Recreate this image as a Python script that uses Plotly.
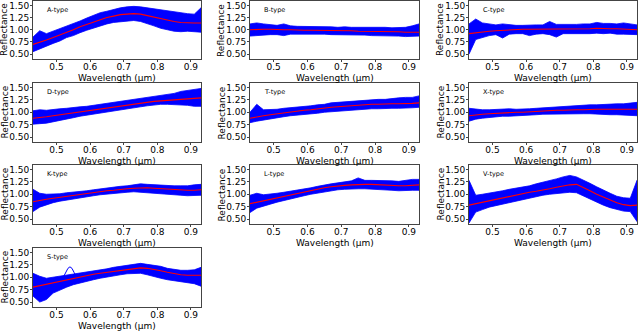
import plotly.graph_objects as go

# ---------------- data ----------------
wavelength = [0.43, 0.45, 0.47, 0.49, 0.51, 0.53, 0.55, 0.57, 0.59, 0.61, 0.63, 0.65, 0.67,
              0.69, 0.71, 0.73, 0.75, 0.77, 0.79, 0.81, 0.83, 0.85, 0.87, 0.89, 0.91, 0.93]

class_names = ["A-type", "B-type", "C-type", "D-type", "T-type", "X-type",
               "K-type", "L-type", "V-type", "S-type"]

a_mean = [0.70, 0.74, 0.79, 0.84, 0.89, 0.95, 1.00, 1.06, 1.11, 1.16, 1.21, 1.25, 1.28, 1.31, 1.32, 1.33, 1.32, 1.29, 1.26, 1.22, 1.19, 1.17, 1.15, 1.14, 1.14, 1.14]
a_upper = [0.85, 0.98, 0.92, 0.97, 1.02, 1.08, 1.13, 1.18, 1.24, 1.29, 1.35, 1.38, 1.42, 1.45, 1.47, 1.48, 1.47, 1.45, 1.43, 1.40, 1.38, 1.36, 1.34, 1.33, 1.32, 1.45]
a_lower = [0.55, 0.60, 0.66, 0.72, 0.77, 0.84, 0.88, 0.94, 0.99, 1.04, 1.08, 1.12, 1.15, 1.17, 1.18, 1.19, 1.17, 1.12, 1.08, 1.03, 1.00, 0.97, 0.96, 0.97, 0.96, 0.95]

b_mean = [1.00, 1.01, 1.01, 1.01, 1.00, 1.00, 1.00, 0.99, 0.99, 0.99, 0.99, 0.99, 0.98, 0.98, 0.98, 0.98, 0.97, 0.97, 0.97, 0.97, 0.96, 0.96, 0.96, 0.95, 0.95, 0.95]
b_upper = [1.12, 1.14, 1.12, 1.10, 1.09, 1.12, 1.08, 1.07, 1.07, 1.06, 1.06, 1.06, 1.06, 1.05, 1.06, 1.05, 1.05, 1.06, 1.05, 1.05, 1.05, 1.04, 1.05, 1.05, 1.08, 1.12]
b_lower = [0.87, 0.88, 0.89, 0.90, 0.90, 0.88, 0.91, 0.91, 0.91, 0.91, 0.91, 0.91, 0.90, 0.90, 0.90, 0.90, 0.89, 0.89, 0.88, 0.88, 0.87, 0.87, 0.87, 0.86, 0.86, 0.87]

c_mean = [0.92, 0.94, 0.96, 0.97, 0.98, 0.99, 1.00, 1.00, 1.01, 1.01, 1.01, 1.02, 1.02, 1.02, 1.02, 1.02, 1.02, 1.02, 1.02, 1.03, 1.02, 1.02, 1.02, 1.01, 1.01, 1.00]
c_upper = [1.12, 1.22, 1.14, 1.12, 1.10, 1.12, 1.10, 1.09, 1.09, 1.10, 1.10, 1.10, 1.17, 1.11, 1.11, 1.10, 1.11, 1.12, 1.12, 1.15, 1.13, 1.13, 1.12, 1.14, 1.12, 1.10]
c_lower = [0.50, 0.80, 0.84, 0.88, 0.90, 0.83, 0.91, 0.92, 0.92, 0.88, 0.91, 0.92, 0.90, 0.85, 0.92, 0.92, 0.93, 0.92, 0.92, 0.93, 0.92, 0.93, 0.91, 0.91, 0.91, 0.90]

d_mean = [0.88, 0.89, 0.91, 0.93, 0.95, 0.97, 0.99, 1.01, 1.03, 1.05, 1.07, 1.09, 1.11, 1.13, 1.15, 1.17, 1.19, 1.20, 1.22, 1.23, 1.24, 1.25, 1.26, 1.27, 1.28, 1.29]
d_upper = [1.03, 1.05, 1.04, 1.06, 1.07, 1.08, 1.10, 1.11, 1.12, 1.14, 1.16, 1.18, 1.20, 1.21, 1.23, 1.26, 1.28, 1.29, 1.31, 1.33, 1.35, 1.38, 1.42, 1.44, 1.46, 1.48]
d_lower = [0.76, 0.77, 0.78, 0.80, 0.83, 0.86, 0.89, 0.92, 0.95, 0.97, 0.99, 1.01, 1.03, 1.05, 1.07, 1.09, 1.11, 1.13, 1.15, 1.16, 1.16, 1.16, 1.15, 1.14, 1.12, 1.12]

t_mean = [0.88, 0.91, 0.93, 0.95, 0.97, 0.99, 1.01, 1.02, 1.04, 1.05, 1.07, 1.08, 1.10, 1.11, 1.12, 1.14, 1.15, 1.15, 1.16, 1.16, 1.17, 1.17, 1.17, 1.17, 1.18, 1.19]
t_upper = [1.00, 1.16, 1.05, 1.05, 1.06, 1.08, 1.09, 1.10, 1.12, 1.13, 1.15, 1.16, 1.19, 1.20, 1.22, 1.22, 1.23, 1.24, 1.25, 1.26, 1.26, 1.28, 1.29, 1.30, 1.30, 1.33]
t_lower = [0.79, 0.82, 0.85, 0.87, 0.89, 0.91, 0.93, 0.94, 0.96, 0.97, 0.98, 1.00, 1.02, 1.03, 1.04, 1.05, 1.06, 1.06, 1.07, 1.07, 1.07, 1.08, 1.08, 1.08, 1.09, 1.10]

x_mean = [0.93, 0.95, 0.96, 0.97, 0.98, 0.99, 0.99, 1.00, 1.00, 1.01, 1.02, 1.02, 1.03, 1.04, 1.04, 1.05, 1.05, 1.05, 1.06, 1.06, 1.06, 1.06, 1.06, 1.06, 1.06, 1.06]
x_upper = [1.08, 1.06, 1.05, 1.05, 1.06, 1.06, 1.07, 1.06, 1.06, 1.07, 1.08, 1.09, 1.10, 1.11, 1.12, 1.13, 1.14, 1.14, 1.15, 1.15, 1.16, 1.16, 1.17, 1.17, 1.18, 1.20]
x_lower = [0.82, 0.86, 0.88, 0.90, 0.91, 0.92, 0.92, 0.93, 0.93, 0.94, 0.95, 0.96, 0.96, 0.97, 0.97, 0.97, 0.97, 0.97, 0.97, 0.96, 0.96, 0.95, 0.95, 0.94, 0.94, 0.93]

k_mean = [0.85, 0.88, 0.90, 0.92, 0.94, 0.96, 0.98, 1.00, 1.01, 1.03, 1.05, 1.07, 1.08, 1.10, 1.11, 1.12, 1.13, 1.13, 1.12, 1.11, 1.10, 1.09, 1.08, 1.08, 1.08, 1.09]
k_upper = [1.10, 1.02, 1.00, 1.00, 1.01, 1.03, 1.04, 1.06, 1.07, 1.09, 1.11, 1.13, 1.14, 1.16, 1.17, 1.19, 1.21, 1.20, 1.19, 1.18, 1.17, 1.17, 1.17, 1.17, 1.19, 1.20]
k_lower = [0.65, 0.74, 0.79, 0.83, 0.86, 0.89, 0.91, 0.93, 0.95, 0.97, 0.99, 1.01, 1.02, 1.03, 1.04, 1.05, 1.05, 1.04, 1.03, 1.02, 1.00, 0.99, 0.98, 0.97, 0.97, 0.98]

l_mean = [0.81, 0.84, 0.87, 0.90, 0.93, 0.96, 0.99, 1.02, 1.05, 1.08, 1.10, 1.13, 1.15, 1.17, 1.18, 1.19, 1.20, 1.20, 1.20, 1.19, 1.19, 1.18, 1.17, 1.17, 1.18, 1.19]
l_upper = [0.98, 1.02, 0.99, 1.00, 1.02, 1.04, 1.06, 1.08, 1.10, 1.13, 1.16, 1.19, 1.21, 1.23, 1.25, 1.27, 1.33, 1.28, 1.28, 1.28, 1.28, 1.27, 1.26, 1.28, 1.30, 1.30]
l_lower = [0.63, 0.72, 0.76, 0.80, 0.84, 0.87, 0.91, 0.94, 0.97, 1.00, 1.02, 1.05, 1.07, 1.09, 1.10, 1.11, 1.11, 1.11, 1.10, 1.10, 1.09, 1.08, 1.07, 1.07, 1.08, 1.08]

v_mean = [0.78, 0.81, 0.84, 0.87, 0.90, 0.93, 0.96, 0.99, 1.02, 1.04, 1.06, 1.08, 1.11, 1.14, 1.17, 1.19, 1.20, 1.14, 1.07, 1.00, 0.94, 0.88, 0.83, 0.79, 0.77, 0.78]
v_upper = [1.28, 0.98, 1.00, 1.02, 1.04, 1.07, 1.10, 1.12, 1.14, 1.17, 1.21, 1.24, 1.27, 1.31, 1.35, 1.38, 1.35, 1.29, 1.22, 1.15, 1.08, 1.02, 0.96, 0.93, 0.92, 1.28]
v_lower = [0.42, 0.64, 0.69, 0.74, 0.77, 0.81, 0.84, 0.87, 0.90, 0.93, 0.95, 0.98, 1.00, 1.02, 1.03, 1.04, 1.03, 0.97, 0.90, 0.84, 0.78, 0.73, 0.69, 0.66, 0.65, 0.45]

s_mean = [0.80, 0.83, 0.86, 0.89, 0.91, 0.94, 0.97, 1.00, 1.03, 1.06, 1.08, 1.10, 1.12, 1.14, 1.16, 1.17, 1.19, 1.18, 1.16, 1.13, 1.10, 1.07, 1.05, 1.04, 1.04, 1.04]
s_upper = [1.08, 1.02, 0.98, 1.00, 1.02, 1.04, 1.07, 1.09, 1.11, 1.13, 1.15, 1.17, 1.20, 1.22, 1.24, 1.26, 1.28, 1.26, 1.24, 1.22, 1.18, 1.16, 1.14, 1.14, 1.15, 1.20]
s_lower = [0.62, 0.50, 0.55, 0.68, 0.74, 0.80, 0.85, 0.89, 0.92, 0.95, 0.98, 1.01, 1.03, 1.05, 1.07, 1.08, 1.08, 1.05, 1.02, 0.98, 0.95, 0.92, 0.90, 0.89, 0.87, 0.82]

# single outlier spectrum bump in the S-type panel
s_outlier_wl = [0.520, 0.528, 0.534, 0.540, 0.546, 0.552, 0.560]
s_outlier_val = [1.00, 1.10, 1.18, 1.21, 1.18, 1.10, 1.00]

means = [a_mean, b_mean, c_mean, d_mean, t_mean, x_mean, k_mean, l_mean, v_mean, s_mean]
uppers = [a_upper, b_upper, c_upper, d_upper, t_upper, x_upper, k_upper, l_upper, v_upper, s_upper]
lowers = [a_lower, b_lower, c_lower, d_lower, t_lower, x_lower, k_lower, l_lower, v_lower, s_lower]

x_ticks = [0.5, 0.6, 0.7, 0.8, 0.9]
x_ticklabels = ["0.5", "0.6", "0.7", "0.8", "0.9"]
y_ticks = [0.50, 0.75, 1.00, 1.25, 1.50]
y_ticklabels = ["0.50", "0.75", "1.00", "1.25", "1.50"]
x_title = "Wavelength (µm)"
y_title = "Reflectance"

# ---------------- layout geometry ----------------
W, H = 638, 332
col_px = [(33, 201), (250, 419), (469, 637)]
row_px = [(1, 59), (83, 142), (165, 224), (248, 307)]
FONT = "DejaVu Sans"
BLUE = "#0000ff"
RED = "#ff0000"

fig = go.Figure()
layout = dict(width=W, height=H, margin=dict(l=0, r=0, t=0, b=0),
              paper_bgcolor="white", plot_bgcolor="white", showlegend=False,
              font=dict(family=FONT, size=9, color="black"))
annotations = []

for i, name in enumerate(class_names):
    r, c = divmod(i, 3)
    x0, x1 = col_px[c]
    y0, y1 = row_px[r]
    n = "" if i == 0 else str(i + 1)
    xa, ya = "x" + n, "y" + n

    fig.add_trace(go.Scatter(
        x=wavelength + wavelength[::-1], y=uppers[i] + lowers[i][::-1],
        fill="toself", fillcolor=BLUE, mode="lines",
        line=dict(color=BLUE, width=0.8), xaxis=xa, yaxis=ya, hoverinfo="skip"))
    if name == "S-type":
        fig.add_trace(go.Scatter(x=s_outlier_wl, y=s_outlier_val, mode="lines",
                                 line=dict(color=BLUE, width=1), xaxis=xa, yaxis=ya))
    fig.add_trace(go.Scatter(x=wavelength, y=means[i], mode="lines",
                             line=dict(color=RED, width=1.1), xaxis=xa, yaxis=ya))

    axis_common = dict(showline=True, mirror=True, linecolor="#444", linewidth=1,
                       ticks="outside", ticklen=2, tickwidth=1, tickcolor="#444",
                       showgrid=False, zeroline=False, ticklabeloverflow="allow",
                       tickfont=dict(family=FONT, size=9, color="black"))
    layout["xaxis" + n] = dict(axis_common, domain=[x0 / W, x1 / W], range=[0.43, 0.93],
                               tickvals=x_ticks, ticktext=x_ticklabels, anchor=ya,
                               ticklabelstandoff=-3)
    layout["yaxis" + n] = dict(axis_common, domain=[1 - y1 / H, 1 - y0 / H], range=[0.40, 1.59],
                               tickvals=y_ticks, ticktext=y_ticklabels, anchor=xa,
                               ticklabelstandoff=-1)

    annotations.append(dict(text=name, xref="paper", yref="paper",
                            x=(x0 + 12) / W, y=1 - (y0 + 9) / H, xanchor="left", yanchor="middle",
                            showarrow=False, font=dict(family=FONT, size=6.5, color="black")))
    annotations.append(dict(text=x_title, xref="paper", yref="paper",
                            x=(x0 + x1) / 2 / W, y=1 - (y1 + 18.5) / H, xanchor="center", yanchor="middle",
                            showarrow=False, font=dict(family=FONT, size=9, color="black")))
    annotations.append(dict(text=y_title, xref="paper", yref="paper", textangle=-90,
                            x=(x0 - 29) / W, y=1 - (y0 + y1) / 2 / H, xanchor="center", yanchor="middle",
                            showarrow=False, font=dict(family=FONT, size=9, color="black")))

layout["annotations"] = annotations
fig.update_layout(**layout)
fig.write_html("out.html", config={"displayModeBar": False},
               post_script="document.body.style.margin='0';document.body.style.overflow='hidden';")
